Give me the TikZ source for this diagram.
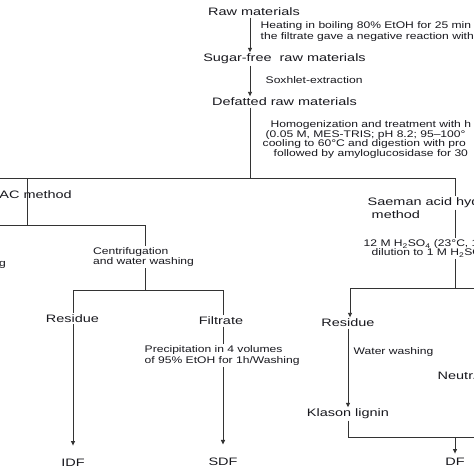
\documentclass[tikz,border=0pt]{standalone}
\usepackage{fontspec}
\setmainfont{Liberation Sans}
\newfontfamily\mainf{Liberation Sans}[FakeStretch=1.34]
\newfontfamily\smallf{Liberation Sans}[FakeStretch=1.26]
\usetikzlibrary{arrows.meta}
\definecolor{lnc}{HTML}{333333}
\definecolor{tx}{HTML}{18181E}
\begin{document}
\begin{tikzpicture}[x=1pt,y=-1pt,
  lab/.style={text=tx,font=\mainf\fontsize{10.8}{12}\selectfont,inner sep=1.5pt},
  sm/.style={text=tx,font=\smallf\fontsize{9.6}{10.5}\selectfont,inner sep=1.5pt,align=left},
  ln/.style={draw=lnc,line width=0.9pt},
  arr/.style={ln,-{Triangle[length=4.5pt,width=4pt]}}]
\useasboundingbox[fill=white] (0,0) rectangle (474,474);

% ---- top chain ----
\coordinate (sp) at (250,178);
\coordinate (le) at (0,178);
\coordinate (rt) at (455,178);

\node[lab] (raw) at (254,12) {Raw materials};
\node[sm,anchor=west] (heat) at (259,31.5) {Heating in boiling 80\% EtOH for 25 min\\the filtrate gave a negative reaction with};
\node[lab] (sugar) at (284.5,59) {Sugar-free\ \ raw materials};
\node[sm,anchor=west] (sox) at (264,80) {Soxhlet-extraction};
\node[lab] (defat) at (284.5,102) {Defatted raw materials};
\node[sm,anchor=west,font=\smallf\fontsize{9.6}{9.4}\selectfont] (homog) at (261,139.5)
  {\hspace*{8pt}Homogenization and treatment with h\\\hspace*{3pt}(0.05 M, MES-TRIS; pH 8.2; 95–100°\\cooling to 60°C and digestion with pro\\\hspace*{11pt}followed by amyloglucosidase for 30};

\draw[arr] (raw.south -| sp) -- (sugar.north -| sp);
\draw[arr] (sugar.south -| sp) -- (defat.north -| sp);
\draw[ln] (defat.south -| sp) -- (sp);
\draw[ln] (le) -- (rt);

% ---- left branch ----
\coordinate (la) at (27,178);
\coordinate (lj) at (27,225);
\coordinate (lj0) at (0,225);
\coordinate (cj) at (145,225);
\node[lab,anchor=east] (aoac) at (73.5,195) {AC method};
\draw[ln] (la) -- (lj);
\node[sm,anchor=east] (gL) at (7.5,265) {g};
\node[sm] (cent) at (143.5,257) {Centrifugation\\and water washing};
\draw[ln] (lj0) -- (cj) -- (cent.north -| cj);
\coordinate (cj2) at (145,290);
\coordinate (rl) at (73,290);
\coordinate (fl) at (223,290);
\draw[ln] (cent.south -| cj2) -- (cj2);
\draw[ln] (rl) -- (fl);
\node[lab] (resL) at (72.5,318.5) {Residue};
\node[lab] (filt) at (221,321) {Filtrate};
\draw[ln] (rl) -- (resL.north -| rl);
\draw[ln] (fl) -- (filt.north -| fl);
\node[sm,anchor=west] (prec) at (143,355.5) {Precipitation in 4 volumes\\of 95\% EtOH for 1h/Washing};
\node[lab] (idf) at (73,463) {IDF};
\node[lab] (sdf) at (223,462) {SDF};
\draw[arr,shorten >=12pt] (resL.south -| rl) -- (idf.north -| rl);
\draw[ln] (filt.south -| fl) -- (prec.north -| fl);
\draw[arr,shorten >=12pt] (prec.south -| fl) -- (sdf.north -| fl);

% ---- right branch ----
\node[lab,anchor=west] (sae1) at (366,203) {Saeman acid hyd};
\node[lab,anchor=west] (sae2) at (370,215) {method};
\node[sm,anchor=west,font=\smallf\fontsize{9.6}{9.2}\selectfont] (acid) at (362,248.5)
  {12 M H\textsubscript{2}SO\textsubscript{4} (23°C, 1\\\hspace*{8pt}dilution to 1 M H\textsubscript{2}SO};
\draw[ln] (rt) -- (sae1.north -| rt);
\draw[ln] (sae1.south -| rt) -- (acid.north -| rt);
\coordinate (rj) at (455,288);
\coordinate (rr) at (350,288);
\coordinate (re) at (474,288);
\draw[ln] (acid.south -| rj) -- (rj);
\draw[ln] (re) -- (rr);
\node[lab] (resR) at (348,323) {Residue};
\draw[arr] (rr) -- (resR.north -| rr);
\node[sm,anchor=west] (ww) at (352,352) {Water washing};
\node[lab,anchor=west] (neu) at (436,376) {Neutr.};
\node[lab] (klas) at (348,414) {Klason lignin};
\draw[arr] (resR.south) -- (klas.north);
\coordinate (kb) at (348,437);
\coordinate (be) at (474,437);
\coordinate (dfj) at (455,437);
\node[lab] (df) at (455,462) {DF};
\draw[ln] (klas.south) -- (kb) -- (be);
\draw[arr,shorten >=3pt] (dfj) -- (df.north);
\end{tikzpicture}
\end{document}
